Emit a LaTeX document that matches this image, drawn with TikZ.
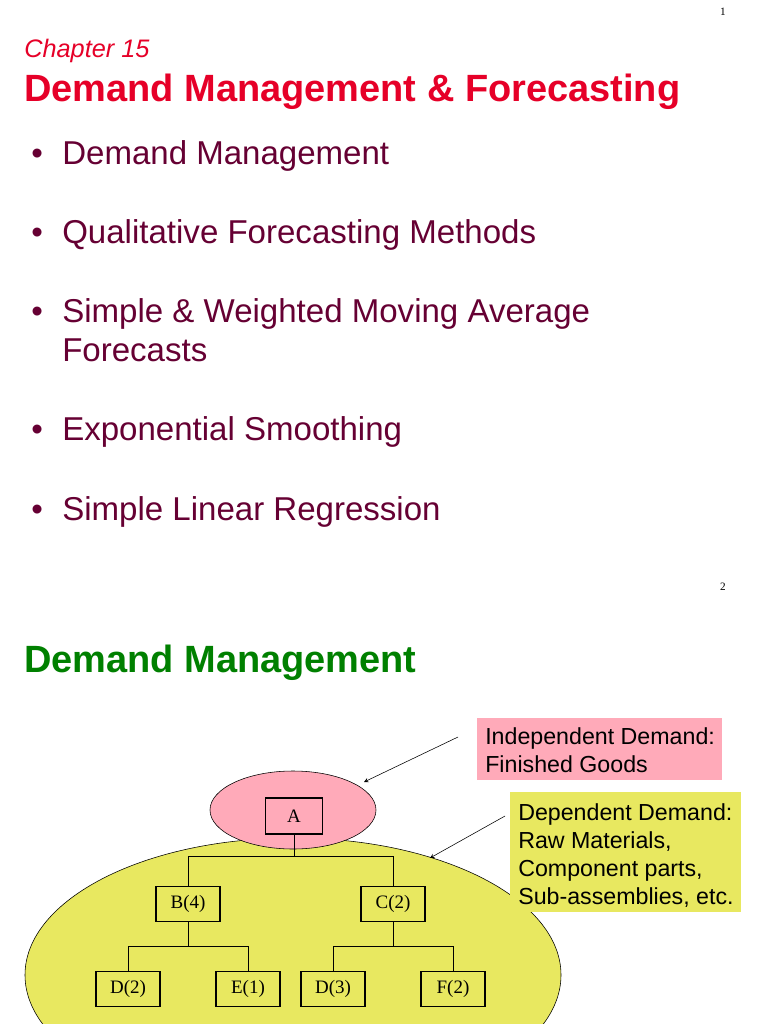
\documentclass[tikz,border=0pt]{standalone}
\usepackage{fontspec}
\setmainfont{Liberation Sans}
\newfontfamily\serifface{Liberation Serif}
\usetikzlibrary{shapes.geometric}
\definecolor{titlered}{RGB}{230,0,40}
\definecolor{bulletmaroon}{RGB}{102,0,51}
\definecolor{headgreen}{RGB}{0,128,0}
\definecolor{pinkfill}{RGB}{255,170,185}
\definecolor{yellowfill}{RGB}{232,232,96}
\tikzset{
  bullettext/.style={anchor=base west, text=bulletmaroon, font=\fontsize{23.5}{28}\selectfont, inner sep=0pt},
  partbox/.style={draw, thick, minimum width=1.6cm, minimum height=0.87cm, font=\serifface\fontsize{13.5}{16}\selectfont, inner sep=0pt},
  notetext/.style={anchor=base west, font=\fontsize{16.5}{20}\selectfont, inner sep=0pt},
  pagenum/.style={font=\serifface\fontsize{8}{9}\selectfont}
}
\begin{document}
\begin{tikzpicture}[x=0.025cm, y=-0.025cm]
	\useasboundingbox[fill=white] (0,0) rectangle (768,1024);
	%page numbers
	\node[pagenum] (pone) at (723,12) {1};
	\node[pagenum] (ptwo) at (723,587) {2};
	%first slide
	\node[anchor=base west, inner sep=0pt, text=titlered, font=\itshape\fontsize{18}{21}\selectfont] (chap) at (24,58) {Chapter 15};
	\node[anchor=base west, inner sep=0pt, text=titlered, font=\bfseries\fontsize{27}{32}\selectfont] (title) at (24,102) {Demand Management \& Forecasting};
	\foreach \t/\y in {Demand Management/165, Qualitative Forecasting Methods/243, Simple \& Weighted Moving Average/322, Exponential Smoothing/440, Simple Linear Regression/520}
	{
		\node[bullettext] at (31,\y) {\textbullet};
		\node[bullettext] at (62,\y) {\t};
	}
	\node[bullettext] (fcast) at (62,361) {Forecasts};
	%second slide
	\node[anchor=base west, inner sep=0pt, text=headgreen, font=\bfseries\fontsize{27}{32}\selectfont] (dmhead) at (24,672) {Demand Management};
	%ellipses
	\node[ellipse, draw, fill=yellowfill, minimum width=536*0.025cm, minimum height=274*0.025cm] (depell) at (293,975) {};
	\node[ellipse, draw, fill=pinkfill, minimum width=166*0.025cm, minimum height=78*0.025cm] (indell) at (293,810) {};
	%notes
	\fill[pinkfill] (477,718) rectangle (722,780);
	\node[notetext] (indnote) at (485,744) {Independent Demand:};
	\node[notetext] at (485,772) {Finished Goods};
	\fill[yellowfill] (510,792) rectangle (741,912);
	\node[notetext] (depnote) at (518,820) {Dependent Demand:};
	\node[notetext] at (518,848) {Raw Materials,};
	\node[notetext] at (518,876) {Component parts,};
	\node[notetext] at (518,904) {Sub-assemblies, etc.};
	\coordinate (indtail) at (458,737);
	\coordinate (deptail) at (505,816);
	\draw[->, >=stealth] (indtail) -- (364,782);
	\draw[->, >=stealth] (deptail) -- (430,858);
	%tree
	\node[partbox, minimum width=1.42cm, minimum height=0.9cm] (A) at (294,816) {A};
	\node[partbox] (B) at (188,904) {B(4)};
	\node[partbox] (C) at (393,904) {C(2)};
	\node[partbox] (D2) at (128,989) {D(2)};
	\node[partbox] (E1) at (248,989) {E(1)};
	\node[partbox] (D3) at (333,989) {D(3)};
	\node[partbox] (F2) at (453,989) {F(2)};
	\draw (A.south) -- ++(0,22) -| (B.north);
	\draw (A.south) ++(0,22) -| (C.north);
	\draw (B.south) -- ++(0,24) -| (D2.north);
	\draw (B.south) ++(0,24) -| (E1.north);
	\draw (C.south) -- ++(0,24) -| (D3.north);
	\draw (C.south) ++(0,24) -| (F2.north);
\end{tikzpicture}
\end{document}
